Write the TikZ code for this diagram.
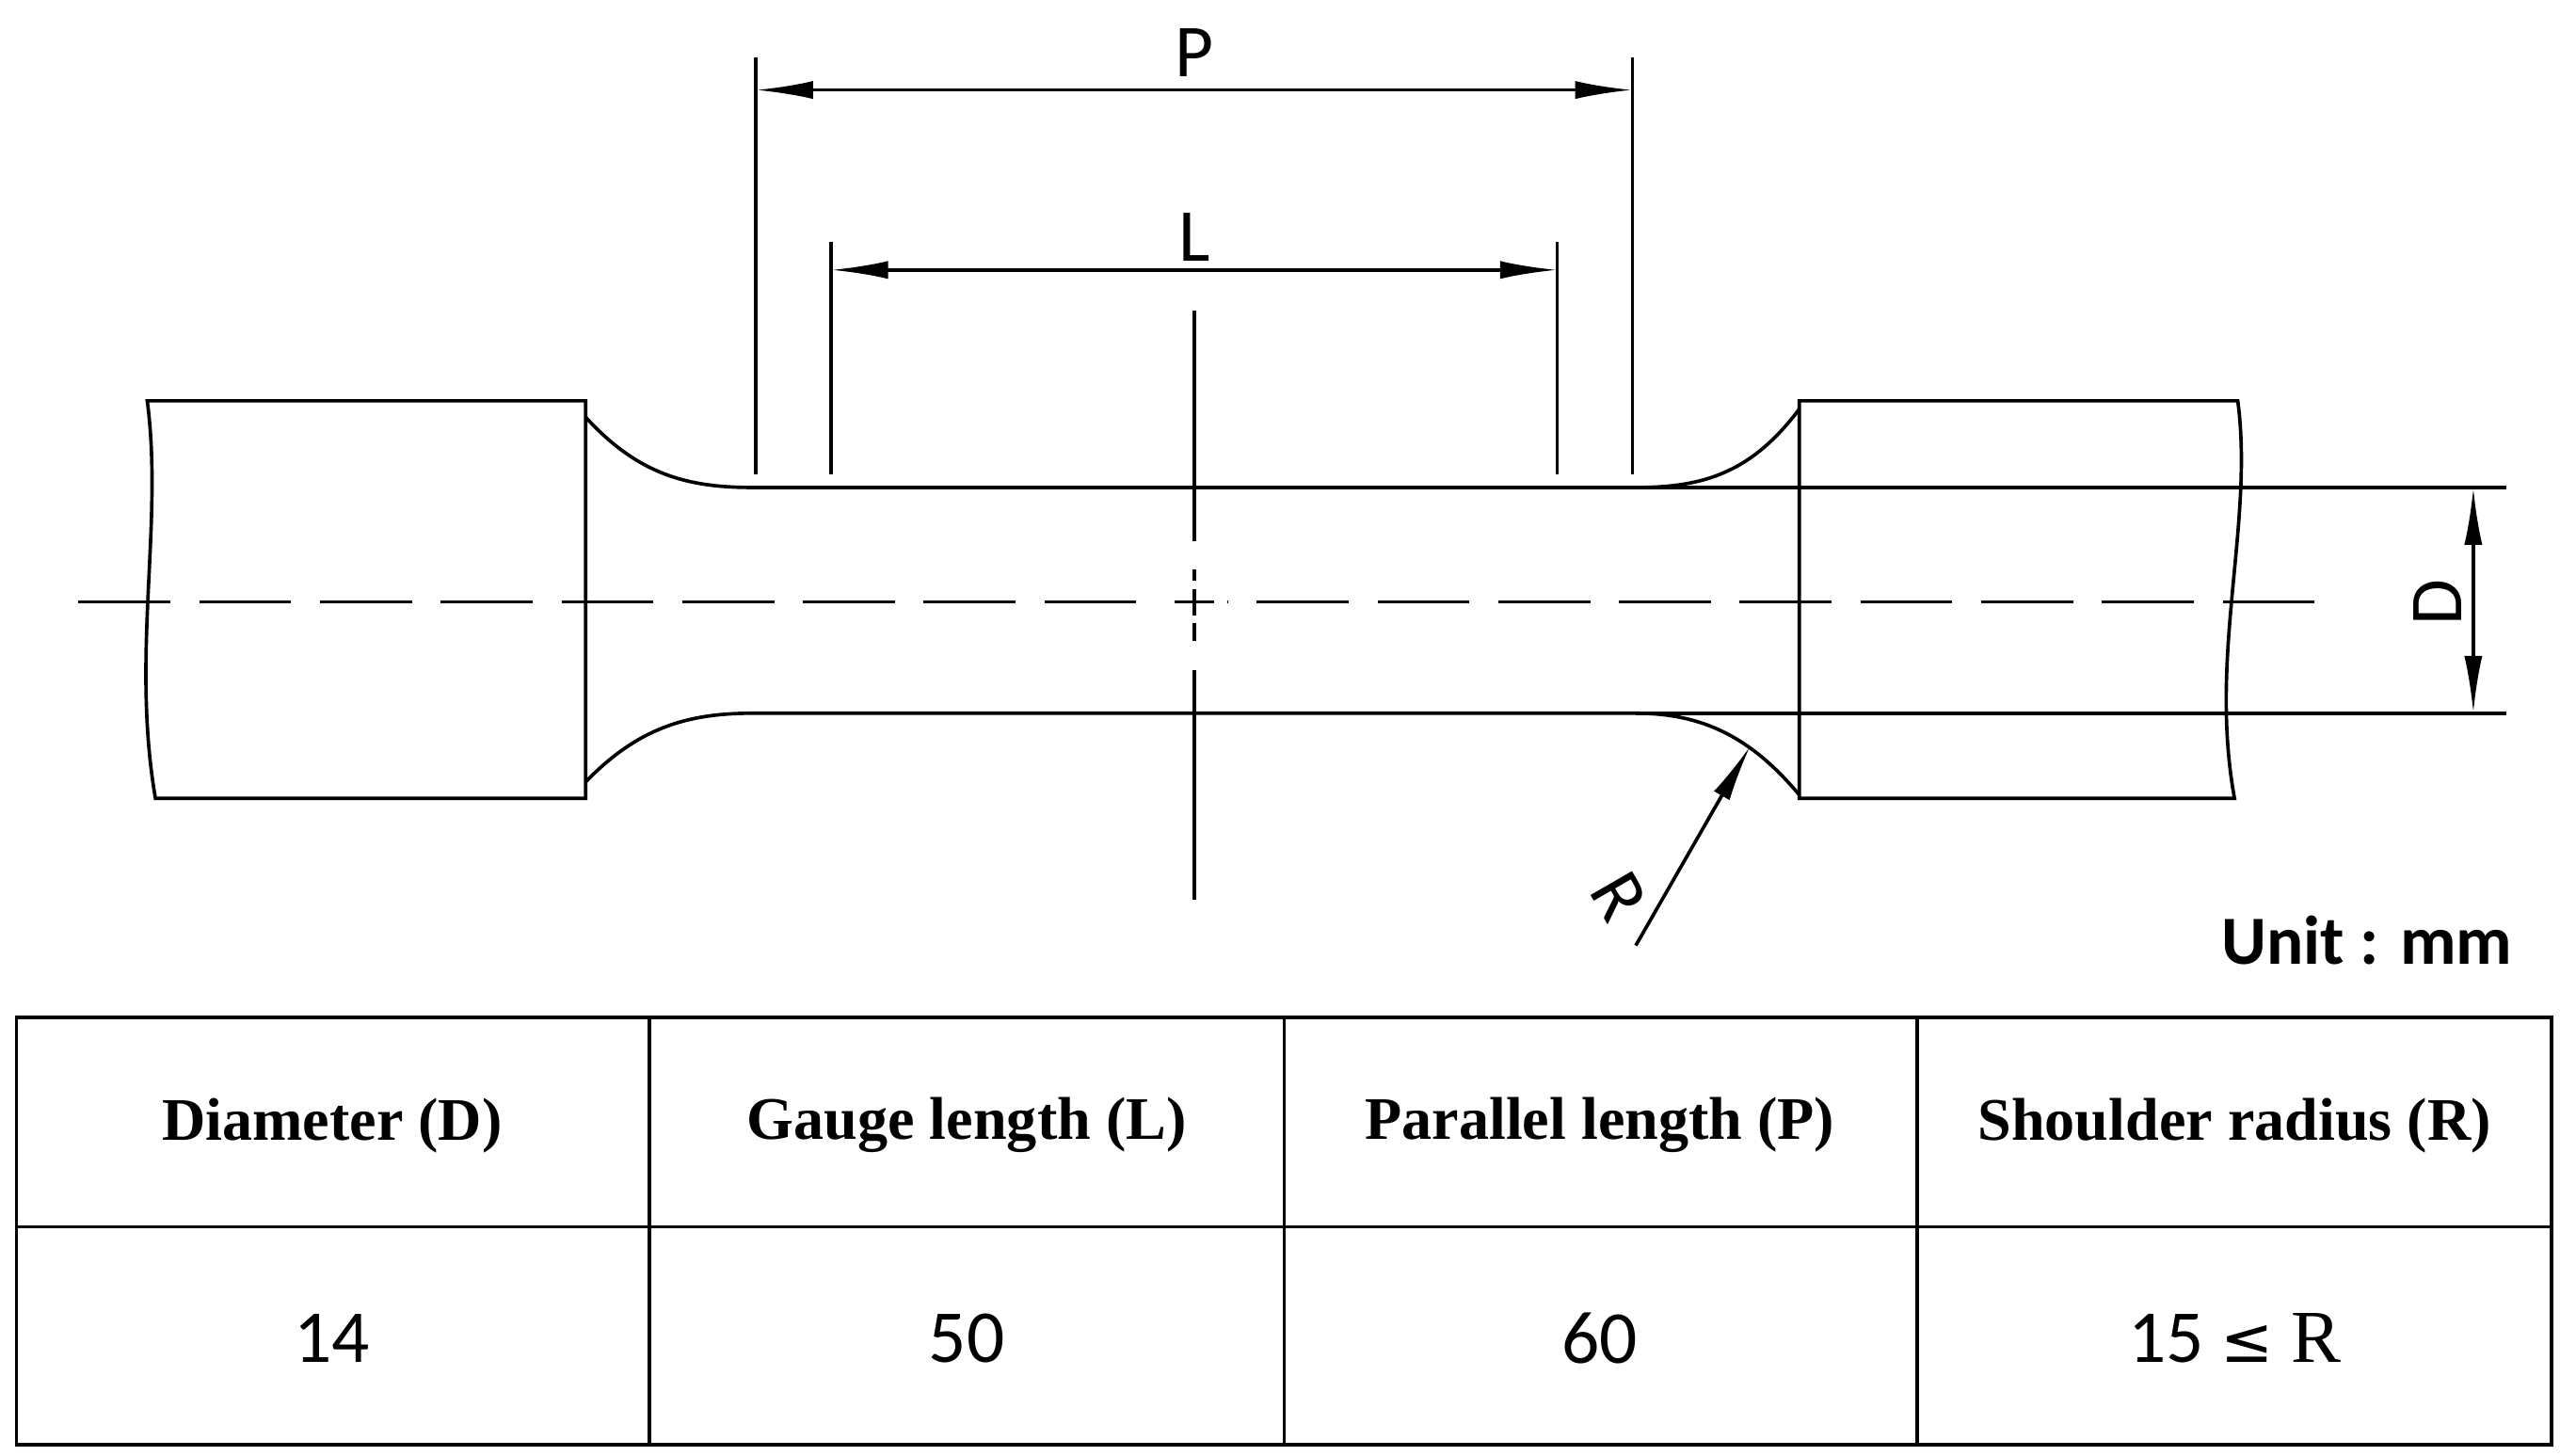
\documentclass[tikz,border=0pt]{standalone}
\usepackage{fontspec}
\setsansfont{Carlito}
\newfontfamily\hdr{Liberation Serif}
\newfontfamily\dej{DejaVu Sans}
\usetikzlibrary{arrows.meta}
\begin{document}
\begin{tikzpicture}[x=0.1mm,y=-0.1mm,line width=0.6pt,
  dim/.style={{Latex[length=3.5mm,width=1.1mm]}-{Latex[length=3.5mm,width=1.1mm]}},
  lbl/.style={font=\sffamily\fontsize{13}{15}\selectfont},
  hd/.style={font=\hdr\bfseries\fontsize{10.5}{12}\selectfont},
  val/.style={font=\sffamily\fontsize{13}{15}\selectfont}]
\useasboundingbox (0,0) rectangle (1565,890);
% body
\draw (358,245) -- (90,245) .. controls (100,320) and (80,400) .. (95,488) -- (358,488) -- cycle;
\draw (1100,245) -- (1368,245) .. controls (1378,320) and (1350,400) .. (1366,488) -- (1100,488) -- cycle;
\draw (358,255) .. controls (390,290) and (420,298) .. (460,298) -- (1000,298) .. controls (1040,298) and (1070,290) .. (1100,250);
\draw (358,478) .. controls (390,445) and (420,436) .. (460,436) -- (1000,436) .. controls (1040,436) and (1070,450) .. (1100,486);
% centerlines
\draw[dash pattern=on 16pt off 5pt] (48,368) -- (710,368);
\draw[dash pattern=on 16pt off 5pt] (1415,368) -- (750,368);
\draw[dash pattern=on 40pt off 5pt] (730,190) -- (730,355);
\draw[dash pattern=on 40pt off 5pt] (730,550) -- (730,381);
\draw (718,368) -- (742,368);
\draw (730,360) -- (730,376);
% P
\draw (462,35) -- (462,290); \draw (998,35) -- (998,290);
\draw[dim] (462,55) -- (998,55);
\node[lbl] (P) at (730,32) {P};
% L
\draw (508,148) -- (508,290); \draw (952,148) -- (952,290);
\draw[dim] (508,165) -- (952,165);
\node[lbl] (L) at (730,145) {L};
% D
\draw (1000,298) -- (1532,298); \draw (1000,436) -- (1532,436);
\draw[dim] (1512,298) -- (1512,436);
\node[lbl,rotate=90] (D) at (1490,368) {D};
% R
\coordinate (r0) at (1000,578); \coordinate (r1) at (1070,456);
\draw[-{Latex[length=3.5mm,width=1.1mm]}] (r0) -- (r1);
\node[lbl,rotate=-60] (R) at (990,548) {R};
\node[font=\sffamily\bfseries\fontsize{12}{14}\selectfont] (unit) at (1447,575) {Unit : mm};
% table
\draw (10,622) rectangle (1560,883);
\draw (10,750) -- (1560,750);
\foreach \x in {397,785,1172} \draw (\x,622) -- (\x,883);
\node[hd] (h1) at (203,688) {Diameter (D)};
\node[hd] (h2) at (591,688) {Gauge length (L)};
\node[hd] (h3) at (978,688) {Parallel length (P)};
\node[hd] (h4) at (1366,688) {Shoulder radius (R)};
\node[val] (v1) at (203,818) {14};
\node[val] (v2) at (591,818) {50};
\node[val] (v3) at (978,818) {60};
\node[val] (v4) at (1366,818) {15 {\dej\fontsize{11}{13}\selectfont ≤} {\hdr R}};
\end{tikzpicture}
\end{document}
